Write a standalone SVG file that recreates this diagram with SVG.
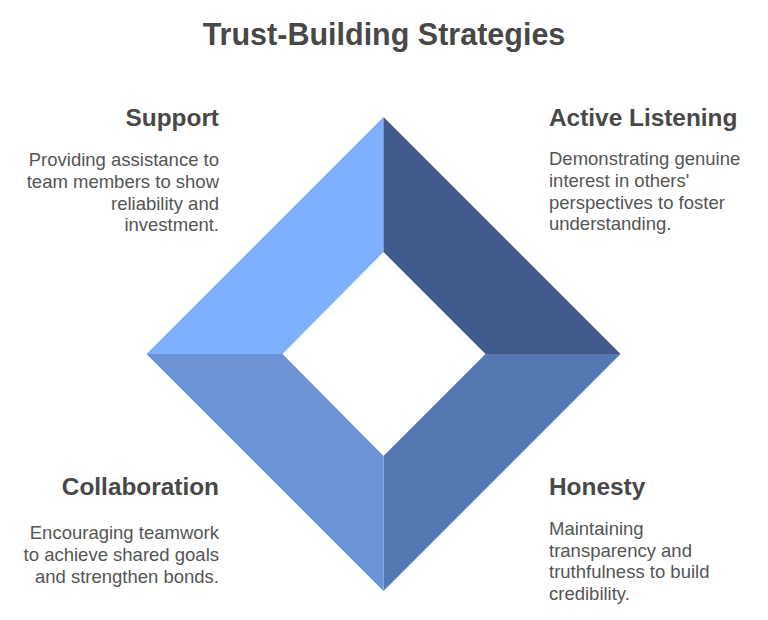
<svg xmlns="http://www.w3.org/2000/svg" width="768" height="620" viewBox="0 0 768 620">
<style>
text{font-family:"Liberation Sans",Arial,Helvetica,sans-serif}
.title{font-size:30.5px;font-weight:bold;fill:#484848}
.head{font-size:24.4px;font-weight:bold;fill:#484848}
.body{font-size:18.5px;fill:#555555}
.r{text-anchor:end}
</style>
<rect width="768" height="620" fill="#ffffff"/>
<text class="title" x="384" y="45" text-anchor="middle">Trust-Building Strategies</text>
<g id="support">
<polygon points="383.5,117 383.5,252 282.5,354 146.5,354" fill="#7FB0FF"/>
<text class="head r" x="219" y="126">Support</text>
<text class="body r" x="219" y="166">Providing assistance to</text>
<text class="body r" x="219" y="188">team members to show</text>
<text class="body r" x="219" y="210">reliability and</text>
<text class="body r" x="219" y="231">investment.</text>
</g>
<g id="active-listening">
<polygon points="383.5,117 620.5,354 485.5,354 383.5,252" fill="#3F5B8A"/>
<text class="head" x="549" y="126">Active Listening</text>
<text class="body" x="549" y="165">Demonstrating genuine</text>
<text class="body" x="549" y="187">interest in others'</text>
<text class="body" x="549" y="209">perspectives to foster</text>
<text class="body" x="549" y="230">understanding.</text>
</g>
<g id="honesty">
<polygon points="620.5,354 383.5,591 383.5,456 485.5,354" fill="#5378B2"/>
<text class="head" x="549" y="495">Honesty</text>
<text class="body" x="549" y="535">Maintaining</text>
<text class="body" x="549" y="557">transparency and</text>
<text class="body" x="549" y="578">truthfulness to build</text>
<text class="body" x="549" y="600">credibility.</text>
</g>
<g id="collaboration">
<polygon points="146.5,354 282.5,354 383.5,456 383.5,591" fill="#6A94D6"/>
<text class="head r" x="219" y="495">Collaboration</text>
<text class="body r" x="219" y="539">Encouraging teamwork</text>
<text class="body r" x="219" y="561">to achieve shared goals</text>
<text class="body r" x="219" y="583">and strengthen bonds.</text>
</g>
<g id="connectors"></g>
</svg>
